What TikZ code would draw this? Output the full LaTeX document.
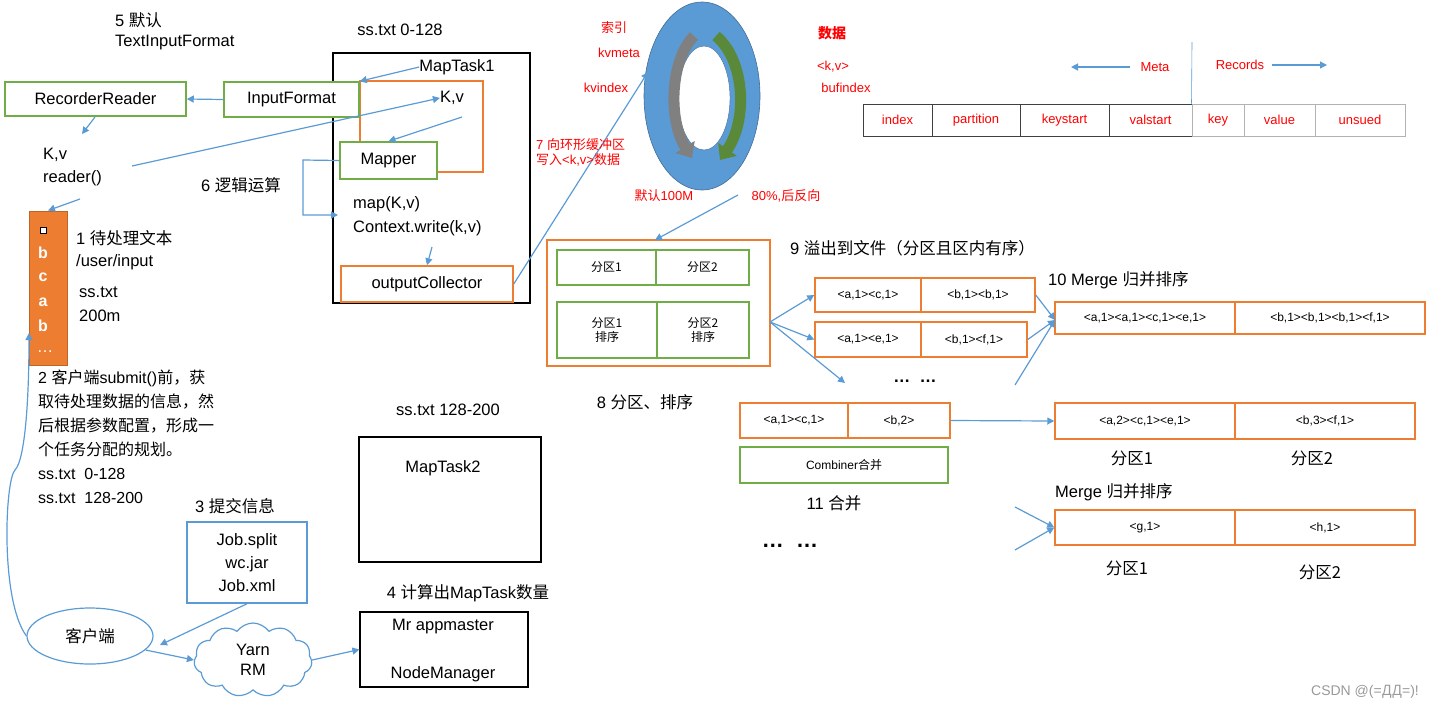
\documentclass[tikz,border=0pt]{standalone}
\usepackage{fontspec}
\setmainfont{Liberation Sans}
\newfontfamily\cjk{Noto Sans CJK SC}
\newcommand{\zh}[1]{{\cjk #1}}
\usetikzlibrary{arrows.meta,shapes.geometric,shapes.symbols}
\definecolor{bl}{HTML}{5B9BD5}
\definecolor{gr}{HTML}{70AD47}
\definecolor{orr}{HTML}{ED7D31}
\newcommand{\bx}[7]{\node[#6,minimum width={#4-#2},minimum height={#5-#3}] (#1) at ({(#2+#4)/2},{(#3+#5)/2}) {#7};}
\begin{document}
\begin{tikzpicture}[x=1pt,y=-1pt,
 every node/.style={inner sep=0pt,font=\fontsize{16.5}{18}\selectfont},
 gbox/.style={draw=gr,line width=1.5pt},
 obox/.style={draw=orr,line width=1.5pt},
 kbox/.style={draw=black,line width=1.2pt},
 tbox/.style={draw=black!75,line width=1pt,font=\fontsize{13}{15}\selectfont,text=red},
 ubox/.style={draw=black!30,line width=1pt,font=\fontsize{13}{15}\selectfont,text=red},
 sm/.style={font=\fontsize{12}{14}\selectfont},
 rd/.style={text=red,font=\fontsize{13}{15}\selectfont},
 arr/.style={draw=bl,line width=1.2pt,-{Triangle[length=7pt,width=7pt]}},
 ln/.style={draw=bl,line width=1.2pt}]
\useasboundingbox (0,0) rectangle (1453,713);
% top-left
\node[anchor=west] (t5a) at (115,20) {5 \zh{默认}};
\node[anchor=west] (t5b) at (115,43) {TextInputFormat};
\node (sst1) at (400,30) {ss.txt 0-128};
\bx{mt1}{333}{53}{530}{303}{kbox}{}
\bx{kvbox}{360}{81}{483}{172}{obox}{}
\bx{rr}{5}{82}{186}{116}{gbox}{RecorderReader}
\bx{inf}{224}{82}{359}{117}{gbox,fill=white}{InputFormat}
\node (mt1t) at (457,67) {MapTask1};
\node (kv1) at (452,98) {K,v};
\bx{mapper}{340}{142}{437}{179}{gbox,fill=white}{Mapper}
\node[anchor=west] (mapkv) at (353,204) {map(K,v)};
\node[anchor=west] (ctx) at (353,228) {Context.write(k,v)};
\bx{oc}{341}{266}{513}{302}{obox}{outputCollector}
\node[anchor=west] (kv2) at (43,155) {K,v};
\node[anchor=west] (rdr) at (43,178) {reader()};
\node[anchor=west] (t6) at (201,185) {6 \zh{逻辑运算}};
% document
\bx{doc}{29}{211}{67}{365}{draw=orr!80!black,line width=1pt,fill=orr}{}
\node[draw=black,fill=white,minimum size=6pt,line width=0.6pt] (sq) at (43,230) {};
\foreach \c/\y/\n in {b/253/l1,c/277/l2,a/302/l3,b/326/l4}{\node[text=white,font=\fontsize{16}{18}\selectfont\bfseries] (\n) at (43,\y) {\c};}
\node[text=white] (l5) at (45,352) {\ldots};
\node[anchor=west] (t1a) at (76,238) {1 \zh{待处理文本}};
\node[anchor=west] (t1b) at (76,262) {/user/input};
\node[anchor=west] (t1c) at (79,292) {ss.txt};
\node[anchor=west] (t1d) at (79,316) {200m};
\draw[arr] (mt1t.west) -- (inf.north east);
\draw[arr] (inf.west) -- (rr.east);
\coordinate (rrb) at (95,117); \coordinate (kvt) at (82,134);
\draw[arr] (rrb) -- (kvt);
\coordinate (rdre) at (132,166);
\draw[arr] (rdre) -- (kv1.west);
\coordinate (kv1b) at (462,117);
\draw[arr] (kv1b) -- (mapper.north);
\coordinate (rdrb) at (80,199);
\draw[arr] (rdrb) -- (doc.north);
\draw[arr] (mapper.west) -- (303,160) -- (303,215) -- (338,215);
\coordinate (ctxb) at (432,247);
\draw[arr] (ctxb) -- (oc.north);
% ring
\fill[bl] (702,96) ellipse [x radius=58,y radius=94];
\draw[bl!70!black,line width=0.6pt] (702,96) ellipse [x radius=58,y radius=94];
\fill[white] (704,98) ellipse [x radius=26,y radius=52];
\draw[bl!70!black,line width=0.4pt] (704,98) ellipse [x radius=26,y radius=52];
\draw[gray,line width=11pt,-{Triangle[length=13pt,width=22pt]}] (694,36) .. controls (670,60) and (668,120) .. (692,158);
\draw[gr!80!black,line width=11pt,-{Triangle[length=13pt,width=22pt]}] (716,36) .. controls (745,60) and (748,120) .. (720,160);
\coordinate (ringk) at (648,72);
\draw[arr] (oc.east) -- (ringk);
\node[rd] (ri1) at (614,28) {\zh{索引}};
\node[rd] (ri2) at (619,53) {kvmeta};
\node[rd] (ri3) at (606,88) {kvindex};
\node[rd,font=\fontsize{14}{16}\selectfont\bfseries] (ri4) at (832,33) {\zh{数据}};
\node[rd] (ri5) at (833,67) {<k,v>};
\node[rd] (ri6) at (846,88) {bufindex};
\node[rd,anchor=west,align=left] (ri7) at (536,152) {7 \zh{向环形缓冲区}\\\zh{写入}<k,v>\zh{数据}};
\node[rd] (ri8) at (664,196) {\zh{默认}100M};
\node[rd] (ri9) at (786,196) {80\%,\zh{后反向}};
% table
\bx{c1}{863}{104}{932}{136}{tbox}{index}
\bx{c2}{932}{104}{1020}{136}{tbox}{partition}
\bx{c3}{1020}{104}{1109}{136}{tbox}{keystart}
\bx{c4}{1109}{104}{1192}{136}{tbox}{valstart}
\bx{c5}{1192}{104}{1244}{136}{ubox}{key}
\bx{c6}{1244}{104}{1315}{136}{ubox}{value}
\bx{c7}{1315}{104}{1405}{136}{ubox}{unsued}
\coordinate (vl) at (1192,42);
\draw[bl,line width=0.6pt] (vl) -- (c5.north west);
\node[rd] (meta) at (1155,67) {Meta};
\node[rd] (rec) at (1240,65) {Records};
\coordinate (ma) at (1071,67); \coordinate (ra) at (1327,65);
\draw[arr] ([xshift=-10pt]meta.west) -- (ma);
\draw[arr] ([xshift=8pt]rec.east) -- (ra);
% spill
\bx{spill}{547}{240}{770}{366}{obox,line width=1.2pt}{}
\coordinate (ringb) at (738,195);
\draw[arr] (ringb) -- (655,240);
\bx{p1}{557}{250}{656}{285}{gbox,sm}{\zh{分区1}}
\bx{p2}{656}{250}{749}{285}{gbox,sm}{\zh{分区2}}
\bx{p3}{557}{302}{657}{358}{gbox,sm,align=center}{\zh{分区1}\\\zh{排序}}
\bx{p4}{657}{302}{749}{358}{gbox,sm,align=center}{\zh{分区2}\\\zh{排序}}
\node[anchor=west] (t9) at (790,248) {9 \zh{溢出到文件（分区且区内有序）}};
\node (t8) at (645,402) {8 \zh{分区、排序}};
\bx{f1a}{815}{278}{921}{312}{obox,sm}{<a,1><c,1>}
\bx{f1b}{921}{278}{1035}{312}{obox,sm}{<b,1><b,1>}
\bx{f2a}{815}{322}{921}{357}{obox,sm}{<a,1><e,1>}
\bx{f2b}{921}{322}{1027}{357}{obox,sm}{<b,1><f,1>}
\node[font=\fontsize{17}{17}\selectfont\bfseries] (dots1) at (915,381) {…\ \ …};
\coordinate (sp) at (770,322); \coordinate (d3) at (845,383);
\draw[arr] (sp) -- (f1a.west);
\draw[arr] (sp) -- (f2a.west);
\draw[arr] (sp) -- (d3);
\node[anchor=west] (t10) at (1048,280) {10 Merge \zh{归并排序}};
\bx{m1}{1055}{302}{1235}{334}{obox,sm}{<a,1><a,1><c,1><e,1>}
\bx{m2}{1235}{302}{1425}{334}{obox,sm}{<b,1><b,1><b,1><f,1>}
\coordinate (m1w) at (1055,320); \coordinate (d4) at (1015,385);
\draw[arr] (f1b.east) -- (m1w);
\draw[arr] (f2b.east) -- (m1w);
\draw[arr] (d4) -- (m1w);
% combiner
\bx{cb1}{740}{403}{848}{438}{obox,sm}{<a,1><c,1>}
\bx{cb2}{848}{403}{950}{438}{obox,sm}{<b,2>}
\bx{cbg}{740}{447}{948}{483}{gbox,sm}{Combiner\zh{合并}}
\node (t11) at (834,503) {11 \zh{合并}};
\bx{r1}{1055}{403}{1235}{439}{obox,sm}{<a,2><c,1><e,1>}
\bx{r2}{1235}{403}{1415}{439}{obox,sm}{<b,3><f,1>}
\draw[arr] (cb2.east) -- (r1.west);
\node (rp1) at (1132,458) {\zh{分区1}};
\node (rp2) at (1312,458) {\zh{分区2}};
\node[anchor=west] (tm) at (1055,492) {Merge \zh{归并排序}};
\bx{g1}{1055}{510}{1235}{545}{obox,sm}{<g,1>}
\bx{g2}{1235}{510}{1415}{545}{obox,sm}{<h,1>}
\coordinate (ga) at (1015,507); \coordinate (gb) at (1015,550);
\draw[arr] (ga) -- (g1.west);
\draw[arr] (gb) -- (g1.west);
\node (gp1) at (1127,568) {\zh{分区1}};
\node (gp2) at (1320,572) {\zh{分区2}};
\node[font=\fontsize{22}{22}\selectfont\bfseries] (dots2) at (790,546) {…\ \ …};
% bottom left
\node[anchor=north west,align=left,font=\fontsize{16}{24}\selectfont] (t2) at (38,370) {2 \zh{客户端}submit()\zh{前，获}\\\zh{取待处理数据的信息，然}\\\zh{后根据参数配置，形成一}\\\zh{个任务分配的规划。}\\ss.txt\ \ 0-128\\ss.txt\ \ 128-200};
\node (t3) at (235,506) {3 \zh{提交信息}};
\bx{job}{187}{522}{307}{603}{draw=bl,line width=1.5pt,align=center,font=\fontsize{16.5}{23}\selectfont}{Job.split\\wc.jar\\Job.xml}
\node[ellipse,draw=bl,line width=1.2pt,minimum width=126,minimum height=56] (cli) at (90,636) {\zh{客户端}};
\node[cloud,cloud puffs=11,cloud puff arc=110,aspect=1.6,draw=bl,line width=1.2pt,minimum width=118,minimum height=74,align=center,font=\fontsize{16.5}{20}\selectfont] (yarn) at (253,660) {Yarn\\RM};
\bx{mr}{360}{612}{528}{687}{kbox}{}
\node (mrt1) at (443,627) {Mr appmaster};
\node (mrt2) at (443,674) {NodeManager};
\node (t4) at (468,593) {4 \zh{计算出}MapTask\zh{数量}};
\node (sst2) at (448,410) {ss.txt 128-200};
\bx{mt2}{359}{437}{541}{562}{kbox}{}
\node (mt2t) at (443,468) {MapTask2};
\coordinate (cliA) at (160,645); \coordinate (docA) at (29,333);
\draw[arr] (job.south) -- (cliA);
\draw[arr] (cli.east) ++(-8,14) -- (yarn.west);
\draw[arr] (yarn.east) -- (mr.west);
\draw[arr] (cli.west) .. controls (0,600) and (5,480) .. (15,470) .. controls (25,460) and (29,400) .. (docA);
\node[text=black!40,font=\fontsize{14}{16}\selectfont] (wm) at (1365,692) {CSDN @(=\zh{ДД}=)!};
\end{tikzpicture}
\end{document}
